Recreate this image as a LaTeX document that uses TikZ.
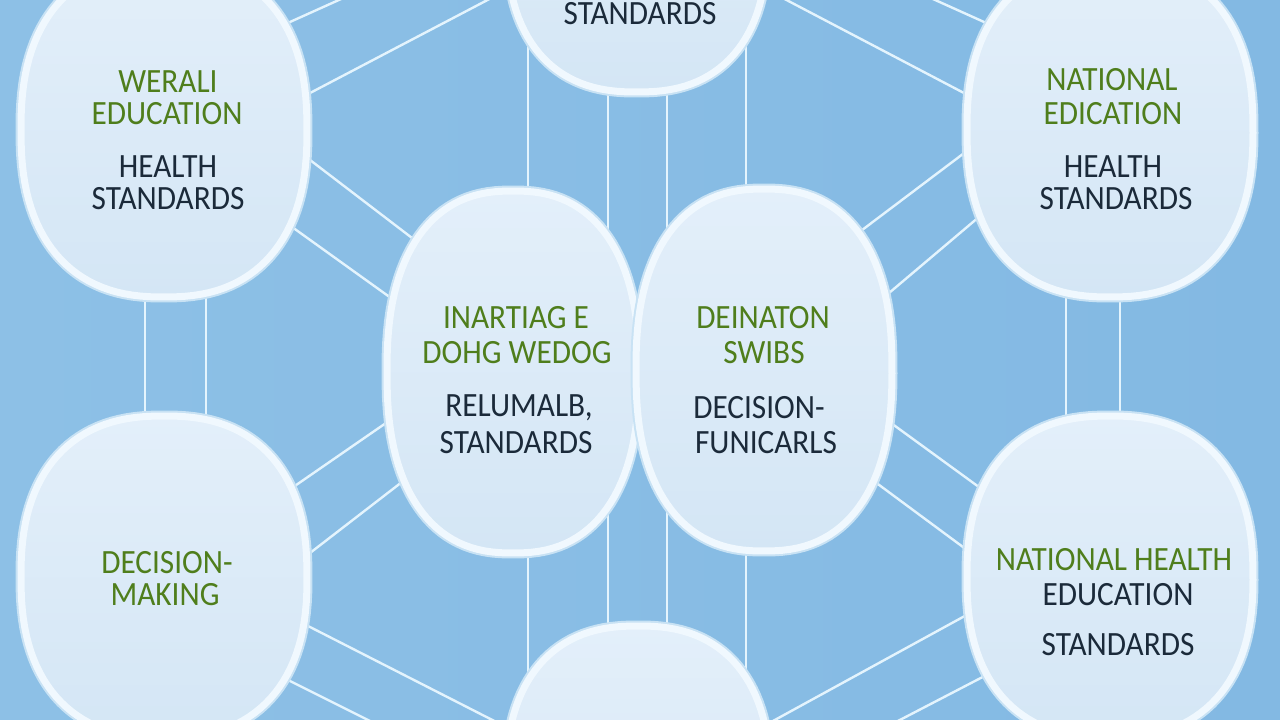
\documentclass[tikz,border=0pt]{standalone}
\usepackage{fontspec}
\setmainfont{Carlito}[FakeStretch=0.92]
\usetikzlibrary{calc}
\definecolor{bgl}{HTML}{8DC0E6}
\definecolor{bgm}{HTML}{AAD5F0}
\definecolor{bgr}{HTML}{83B9E3}
\definecolor{linkc}{HTML}{E4F4FD}
\definecolor{rimc}{HTML}{F0F8FE}
\definecolor{haloc}{HTML}{C8E2F4}
\definecolor{fillt}{HTML}{E3EFFA}
\definecolor{fillb}{HTML}{D4E6F5}
\definecolor{greenc}{HTML}{4F7E1C}
\definecolor{darkc}{HTML}{1B2A3A}
\tikzset{
  hub/.style={draw=none, fill=none, inner sep=0pt, shape=rectangle},
  link/.style={draw=linkc, line width=2.4pt},
  vlink/.style={draw=linkc, line width=2pt},
  blob/.style={draw=rimc, line width=7pt, top color=fillt, bottom color=fillb},
  halo/.style={draw=haloc, line width=11pt},
  gtxt/.style={text=greenc, font=\fontsize{34}{36}\selectfont, inner sep=0pt},
  dtxt/.style={text=darkc, font=\fontsize{34}{36}\selectfont, inner sep=0pt}
}
\newcommand{\drawblob}[3]{%
  \draw[halo, shift={(#1.center)}] plot[domain=0.5:360.5, samples=121, variable=\t]
    ({(#2)*cos(\t)*abs(cos(\t))^(-0.1667)}, {(#3)*sin(\t)*abs(sin(\t))^(-0.1667)}) -- cycle;
  \draw[blob, shift={(#1.center)}] plot[domain=0.5:360.5, samples=121, variable=\t]
    ({(#2)*cos(\t)*abs(cos(\t))^(-0.1667)}, {(#3)*sin(\t)*abs(sin(\t))^(-0.1667)}) -- cycle;
}
\begin{document}
\begin{tikzpicture}[x=1pt, y=-1pt]
\useasboundingbox (0,0) rectangle (1280,720);
\clip (0,0) rectangle (1280,720);
\fill[left color=bgl, middle color=bgm, right color=bgr] (0,0) rectangle (1280,720);

% named hubs
\node[hub, minimum width=292pt, minimum height=340pt] (TL) at (164,130) {};
\node[hub, minimum width=292pt, minimum height=340pt] (TR) at (1110,130) {};
\node[hub, minimum width=266pt, minimum height=310pt] (TC) at (637,-60) {};
\node[hub, minimum width=258pt, minimum height=368pt] (ML) at (513,372) {};
\node[hub, minimum width=262pt, minimum height=368pt] (MR) at (764,370) {};
\node[hub, minimum width=292pt, minimum height=328pt] (BL) at (164,577) {};
\node[hub, minimum width=292pt, minimum height=328pt] (BR) at (1110,577) {};
\node[hub, minimum width=270pt, minimum height=324pt] (BC) at (638,782) {};

% connectors
\draw[link] ($(TL.center)+(89.5,-91.6)$) -- ($(TC.center)+(-77,-39.5)$);
\draw[link] ($(TL.center)+(106,-16)$) -- ($(TC.center)+(-77,22)$);
\draw[link] ($(TR.center)+(-89.5,-91.6)$) -- ($(TC.center)+(77,-39.5)$);
\draw[link] ($(TR.center)+(-106,-16)$) -- ($(TC.center)+(77,22)$);

\draw[link] ($(TL.center)+(106,-0.6)$) -- ($(ML.center)+(-63,-105)$);
\draw[link] ($(TL.center)+(96,74)$) -- ($(ML.center)+(-83,-46)$);
\draw[link] ($(TR.center)+(-110,-4)$) -- ($(MR.center)+(61,-112)$);
\draw[link] ($(TR.center)+(-100,60.7)$) -- ($(MR.center)+(86,-44)$);

\draw[vlink] ($(TL.center)+(-19,100)$) -- ($(BL.center)+(-19,-100)$);
\draw[vlink] ($(TL.center)+(42,100)$) -- ($(BL.center)+(42,-100)$);
\draw[vlink] ($(TR.center)+(-44,100)$) -- ($(BR.center)+(-44,-100)$);
\draw[vlink] ($(TR.center)+(10,100)$) -- ($(BR.center)+(10,-100)$);

\draw[vlink] ($(TC.center)+(-109,60)$) -- ($(BC.center)+(-110,-70)$);
\draw[vlink] ($(TC.center)+(-29,60)$) -- ($(BC.center)+(-30,-70)$);
\draw[vlink] ($(TC.center)+(30,60)$) -- ($(BC.center)+(29,-70)$);
\draw[vlink] ($(TC.center)+(109,60)$) -- ($(BC.center)+(108,-70)$);

\draw[link] ($(ML.center)+(-93,27.5)$) -- ($(BL.center)+(96,-67)$);
\draw[link] ($(ML.center)+(-78,84.5)$) -- ($(BL.center)+(111,3)$);
\draw[link] ($(MR.center)+(91,26.8)$) -- ($(BR.center)+(-95,-63.7)$);
\draw[link] ($(MR.center)+(76,86)$) -- ($(BR.center)+(-110,-2.6)$);

\draw[link] ($(BL.center)+(106,29.6)$) -- ($(BC.center)+(-78,-27.5)$);
\draw[link] ($(BL.center)+(96,89)$) -- ($(BC.center)+(-98,24)$);
\draw[link] ($(BR.center)+(-110,19.7)$) -- ($(BC.center)+(82,-32)$);
\draw[link] ($(BR.center)+(-100,85.8)$) -- ($(BC.center)+(102,21)$);

% shapes
\drawblob{TL}{143}{167}
\drawblob{TR}{143}{167}
\drawblob{TC}{130}{152}
\drawblob{BL}{143}{161}
\drawblob{BR}{143}{161}
\drawblob{BC}{132}{156}
\drawblob{ML}{126}{181}
\drawblob{MR}{128}{181}

% texts
\node[gtxt] (tl1) at (168,82) {WERALI};
\node[gtxt] (tl2) at (167,114) {EDUCATION};
\node[dtxt] (tl3) at (168,167) {HEALTH};
\node[dtxt] (tl4) at (168,199) {STANDARDS};

\node[dtxt] (tc1) at (640,14) {STANDARDS};

\node[gtxt] (tr1) at (1112,80) {NATIONAL};
\node[gtxt] (tr2) at (1113,114) {EDICATION};
\node[dtxt] (tr3) at (1113,167) {HEALTH};
\node[dtxt] (tr4) at (1116,199) {STANDARDS};

\node[gtxt] (ml1) at (516,318) {INARTIAG E};
\node[gtxt] (ml2) at (517,353) {DOHG WEDOG};
\node[dtxt] (ml3) at (519,408) {RELUMALB,};
\node[dtxt] (ml4) at (516,443) {STANDARDS};

\node[gtxt] (mr1) at (763,318) {DEINATON};
\node[gtxt] (mr2) at (764,353) {SWIBS};
\node[dtxt] (mr3) at (759,408) {DECISION-};
\node[dtxt] (mr4) at (766,443) {FUNICARLS};

\node[gtxt] (bl1) at (167,563) {DECISION-};
\node[gtxt] (bl2) at (165,595) {MAKING};

\node[gtxt] (br1) at (1114,560) {NATIONAL HEALTH};
\node[dtxt] (br2) at (1118,595) {EDUCATION};
\node[dtxt] (br3) at (1118,645) {STANDARDS};
\end{tikzpicture}
\end{document}
